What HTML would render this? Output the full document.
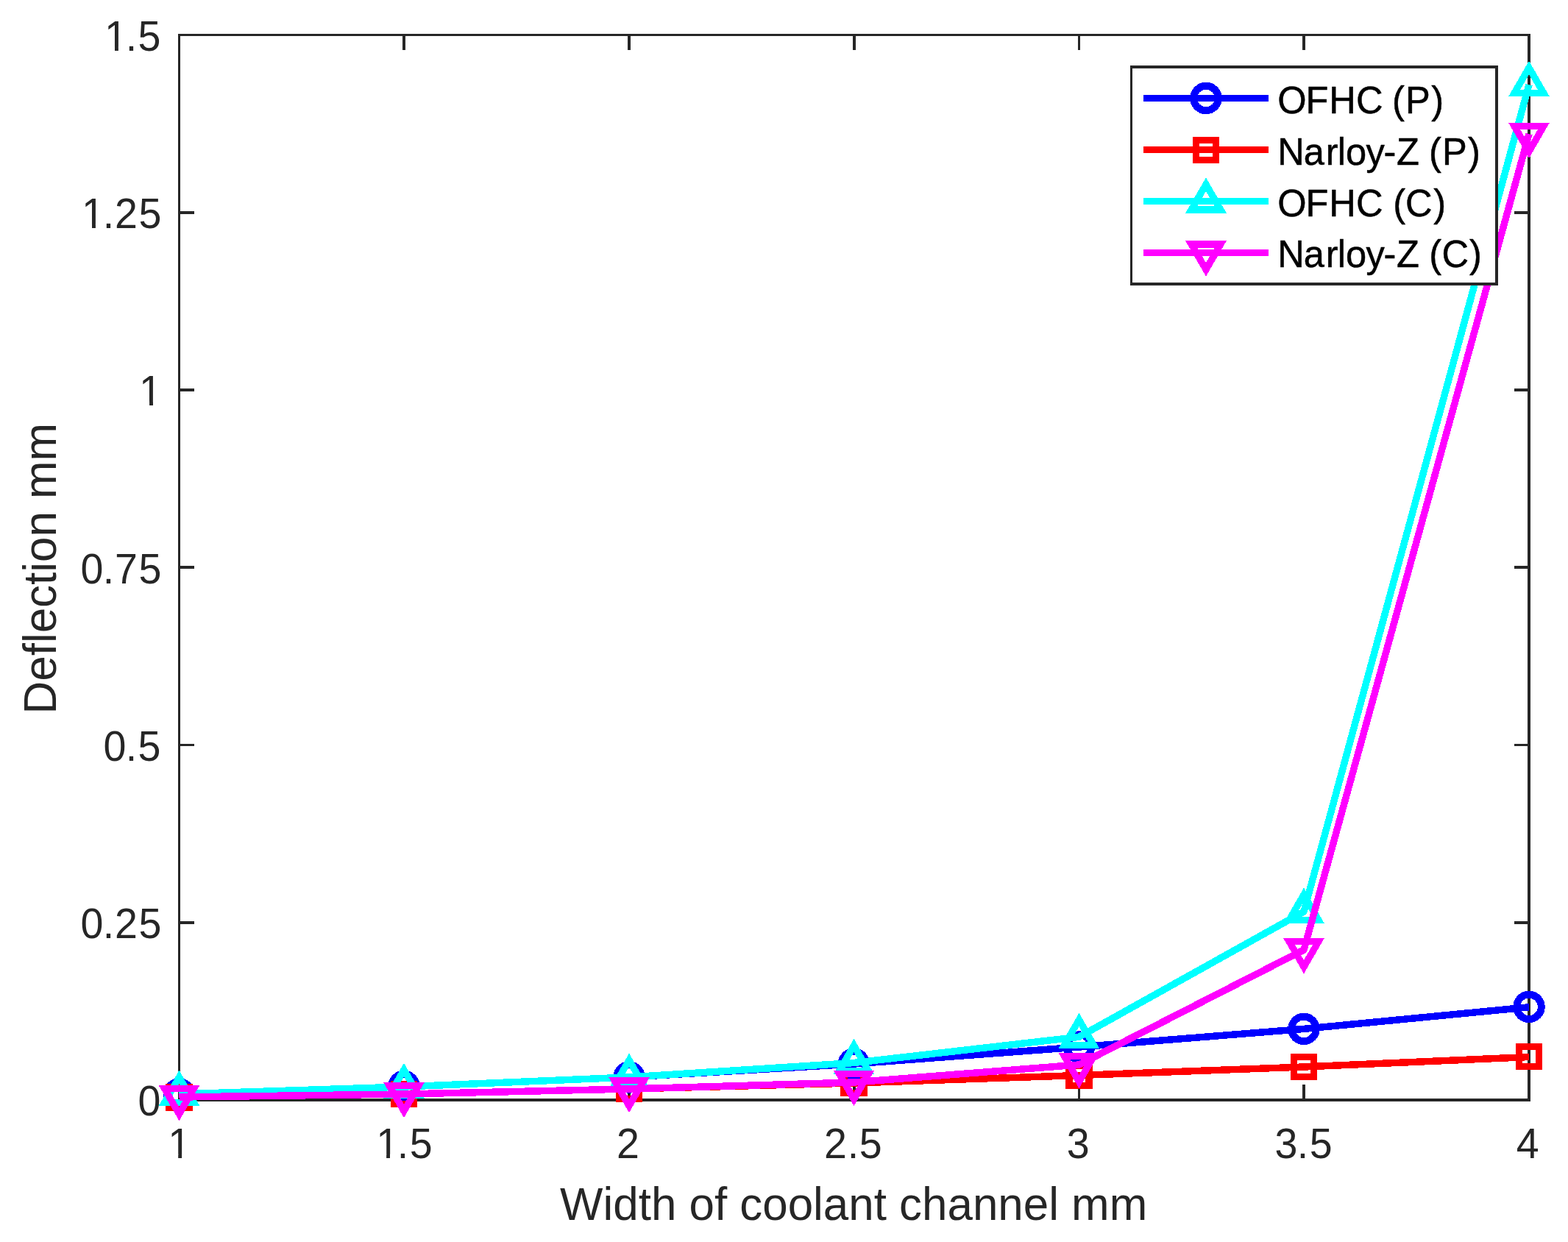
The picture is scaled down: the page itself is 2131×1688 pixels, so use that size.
<!DOCTYPE html>
<html lang="en"><head><meta charset="utf-8"><title>Deflection vs. width of coolant channel</title>
<style>html,body{margin:0;padding:0;background:#fff;}body{width:2131px;height:1688px;overflow:hidden;}svg{display:block;}text{font-family:"Liberation Sans",Arial,Helvetica,sans-serif;}</style>
</head><body>
<svg width="2131" height="1688" viewBox="0 0 2131 1688" role="img" aria-label="Deflection versus width of coolant channel">
<rect x="0" y="0" width="2131" height="1688" fill="#ffffff"/>
<g fill="#262626" shape-rendering="crispEdges">
<rect x="242" y="46" width="3" height="1451"/>
<rect x="2076" y="46" width="4" height="1451"/>
<rect x="242" y="46" width="1838" height="3"/>
<rect x="242" y="1493" width="1838" height="4"/>
</g>
<g fill="#262626" shape-rendering="crispEdges">
<rect x="547" y="49" width="4" height="19"/>
<rect x="547" y="1474" width="4" height="19"/>
<rect x="853" y="49" width="4" height="19"/>
<rect x="853" y="1474" width="4" height="19"/>
<rect x="1159" y="49" width="4" height="19"/>
<rect x="1159" y="1474" width="4" height="19"/>
<rect x="1465" y="49" width="3" height="19"/>
<rect x="1465" y="1474" width="3" height="19"/>
<rect x="1770" y="49" width="4" height="19"/>
<rect x="1770" y="1474" width="4" height="19"/>
<rect x="245" y="1252" width="19" height="4"/>
<rect x="2058" y="1252" width="18" height="4"/>
<rect x="245" y="1011" width="19" height="3"/>
<rect x="2058" y="1011" width="18" height="3"/>
<rect x="245" y="769" width="19" height="4"/>
<rect x="2058" y="769" width="18" height="4"/>
<rect x="245" y="528" width="19" height="4"/>
<rect x="2058" y="528" width="18" height="4"/>
<rect x="245" y="287" width="19" height="4"/>
<rect x="2058" y="287" width="18" height="4"/>
</g>
<defs>
<clipPath id="c0" clipPathUnits="userSpaceOnUse"><path d="M188.21 -80H428.21V40H188.21Z M230.95 -5.15H242.19V2H230.95Z M247.11 -5.15H257.92V2H247.11Z" clip-rule="evenodd"/></clipPath>
<clipPath id="c1" clipPathUnits="userSpaceOnUse"><path d="M471.14 -80H711.14V40H471.14Z M513.87 -5.15H525.12V2H513.87Z M530.03 -5.15H540.84V2H530.03Z" clip-rule="evenodd"/></clipPath>
<clipPath id="c2" clipPathUnits="userSpaceOnUse"><path d="M149.09 -80H389.09V40H149.09Z M191.82 -5.15H203.07V2H191.82Z M207.98 -5.15H218.79V2H207.98Z" clip-rule="evenodd"/></clipPath>
<clipPath id="c3" clipPathUnits="userSpaceOnUse"><path d="M71.02 -80H311.02V40H71.02Z M113.76 -5.15H125V2H113.76Z M129.92 -5.15H140.73V2H129.92Z" clip-rule="evenodd"/></clipPath>
<clipPath id="c4" clipPathUnits="userSpaceOnUse"><path d="M102 -80H342V40H102Z M144.73 -5.15H155.98V2H144.73Z M160.89 -5.15H171.7V2H160.89Z" clip-rule="evenodd"/></clipPath>
</defs>
<g fill="#262626" font-size="55.6px">
<text transform="translate(0 1573.9) scale(1 1.045)" x="228.21" y="0" clip-path="url(#c0)">1</text>
<text transform="translate(0 1573.9) scale(1 1.045)" x="511.14 539.76 556.65" y="0" clip-path="url(#c1)">1.5</text>
<text transform="translate(0 1573.9) scale(1 1.045)" x="838.1" y="0">2</text>
<text transform="translate(0 1573.9) scale(1 1.045)" x="1120.01 1151.8 1167.69" y="0">2.5</text>
<text transform="translate(0 1573.9) scale(1 1.045)" x="1449.75" y="0">3</text>
<text transform="translate(0 1573.9) scale(1 1.045)" x="1732.62 1762.8 1779.64" y="0">3.5</text>
<text transform="translate(0 1573.9) scale(1 1.045)" x="2060.74" y="0">4</text>
<text transform="translate(0 1515.9) scale(1 1.045)" x="187.44" y="0">0</text>
<text transform="translate(0 1274.9) scale(1 1.045)" x="109.49 139.8 155.99 188.52" y="0">0.25</text>
<text transform="translate(0 1033.9) scale(1 1.045)" x="140.58 170.73 187.54" y="0">0.5</text>
<text transform="translate(0 792.9) scale(1 1.045)" x="109.49 139.8 155.96 188.52" y="0">0.75</text>
<text transform="translate(0 550.9) scale(1 1.045)" x="189.09" y="0" clip-path="url(#c2)">1</text>
<text transform="translate(0 309.9) scale(1 1.045)" x="111.02 139.8 156.02 188.52" y="0" clip-path="url(#c3)">1.25</text>
<text transform="translate(0 68.9) scale(1 1.045)" x="142 170.73 187.54" y="0" clip-path="url(#c4)">1.5</text>
</g>
<g fill="#262626" font-size="61.9px">
<text transform="translate(1160.2 1658) scale(1 1.03)" x="-399.1" y="0">Width of coolant channel mm</text>
<text transform="translate(75.8 772.6) rotate(-90) scale(1 1.03)" x="-197.79" y="0">Deflection mm</text>
</g>
<g shape-rendering="crispEdges" fill="none">
<polyline points="243.5,1487 549,1477 855,1464 1160.5,1446 1466.5,1423 1772,1398.4 2078,1368.8" stroke="#0000ff" stroke-width="9.5" stroke-linejoin="round" stroke-linecap="butt"/>
<circle cx="243.5" cy="1487" r="16.75" fill="none" stroke="#0000ff" stroke-width="10"/>
<circle cx="549" cy="1476.5" r="16.75" fill="none" stroke="#0000ff" stroke-width="10"/>
<circle cx="855" cy="1464" r="16.75" fill="none" stroke="#0000ff" stroke-width="10"/>
<circle cx="1160.5" cy="1446" r="16.75" fill="none" stroke="#0000ff" stroke-width="10"/>
<circle cx="1466.5" cy="1423" r="16.75" fill="none" stroke="#0000ff" stroke-width="10"/>
<circle cx="1772" cy="1398.4" r="16.75" fill="none" stroke="#0000ff" stroke-width="10"/>
<circle cx="2078" cy="1368.4" r="16.75" fill="none" stroke="#0000ff" stroke-width="10"/>
<polyline points="243.5,1491 549,1487 855,1480 1160.5,1472 1466.5,1461.5 1772,1450 2078,1436.5" stroke="#ff0000" stroke-width="9.5" stroke-linejoin="round" stroke-linecap="butt"/>
<rect x="230" y="1478" width="27" height="27" fill="none" stroke="#ff0000" stroke-width="9.2"/>
<rect x="535.5" y="1473.5" width="27" height="27" fill="none" stroke="#ff0000" stroke-width="9.2"/>
<rect x="841.5" y="1466.5" width="27" height="27" fill="none" stroke="#ff0000" stroke-width="9.2"/>
<rect x="1147" y="1458.5" width="27" height="27" fill="none" stroke="#ff0000" stroke-width="9.2"/>
<rect x="1453" y="1448.5" width="27" height="27" fill="none" stroke="#ff0000" stroke-width="9.2"/>
<rect x="1758.5" y="1436.5" width="27" height="27" fill="none" stroke="#ff0000" stroke-width="9.2"/>
<rect x="2064.5" y="1422.5" width="27" height="27" fill="none" stroke="#ff0000" stroke-width="9.2"/>
<polyline points="243.5,1487 549,1477 855,1464 1160.5,1444.5 1466.5,1409.3 1772,1239 2078,115.2" stroke="#00ffff" stroke-width="9.5" stroke-linejoin="round" stroke-linecap="butt"/>
<polygon points="243.5,1464 263.33,1498.35 223.67,1498.35" fill="none" stroke="#00ffff" stroke-width="9.3" stroke-linejoin="miter"/>
<polygon points="549,1454 568.83,1488.35 529.17,1488.35" fill="none" stroke="#00ffff" stroke-width="9.3" stroke-linejoin="miter"/>
<polygon points="855,1440.9 874.83,1475.25 835.17,1475.25" fill="none" stroke="#00ffff" stroke-width="9.3" stroke-linejoin="miter"/>
<polygon points="1160.5,1421 1180.33,1455.35 1140.67,1455.35" fill="none" stroke="#00ffff" stroke-width="9.3" stroke-linejoin="miter"/>
<polygon points="1466.5,1386 1486.33,1420.35 1446.67,1420.35" fill="none" stroke="#00ffff" stroke-width="9.3" stroke-linejoin="miter"/>
<polygon points="1772,1215.9 1791.83,1250.25 1752.17,1250.25" fill="none" stroke="#00ffff" stroke-width="9.3" stroke-linejoin="miter"/>
<polygon points="2078,92 2097.83,126.35 2058.17,126.35" fill="none" stroke="#00ffff" stroke-width="9.3" stroke-linejoin="miter"/>
<polyline points="243.5,1491 549,1487 855,1480 1160.5,1471 1466.5,1447 1772,1291 2078,182.2" stroke="#ff00ff" stroke-width="9.5" stroke-linejoin="round" stroke-linecap="butt"/>
<polygon points="243.5,1514 263.33,1479.65 223.67,1479.65" fill="none" stroke="#ff00ff" stroke-width="9.3" stroke-linejoin="miter"/>
<polygon points="549,1510 568.83,1475.65 529.17,1475.65" fill="none" stroke="#ff00ff" stroke-width="9.3" stroke-linejoin="miter"/>
<polygon points="855,1503 874.83,1468.65 835.17,1468.65" fill="none" stroke="#ff00ff" stroke-width="9.3" stroke-linejoin="miter"/>
<polygon points="1160.5,1493.9 1180.33,1459.55 1140.67,1459.55" fill="none" stroke="#ff00ff" stroke-width="9.3" stroke-linejoin="miter"/>
<polygon points="1466.5,1470.1 1486.33,1435.75 1446.67,1435.75" fill="none" stroke="#ff00ff" stroke-width="9.3" stroke-linejoin="miter"/>
<polygon points="1772,1314.1 1791.83,1279.75 1752.17,1279.75" fill="none" stroke="#ff00ff" stroke-width="9.3" stroke-linejoin="miter"/>
<polygon points="2078,205.9 2097.83,171.55 2058.17,171.55" fill="none" stroke="#ff00ff" stroke-width="9.3" stroke-linejoin="miter"/>
</g>
<g shape-rendering="crispEdges">
<rect x="1536" y="89" width="500" height="299" fill="#262626"/>
<rect x="1539" y="93" width="493" height="291" fill="#ffffff"/>
<line x1="1554" y1="133.5" x2="1724" y2="133.5" stroke="#0000ff" stroke-width="9.5"/>
<circle cx="1639" cy="133.5" r="16.75" fill="none" stroke="#0000ff" stroke-width="10"/>
<line x1="1554" y1="203.5" x2="1724" y2="203.5" stroke="#ff0000" stroke-width="9.5"/>
<rect x="1625.5" y="190.5" width="27" height="27" fill="none" stroke="#ff0000" stroke-width="9.2"/>
<line x1="1554" y1="273.5" x2="1724" y2="273.5" stroke="#00ffff" stroke-width="9.5"/>
<polygon points="1639,250.6 1658.83,284.95 1619.17,284.95" fill="none" stroke="#00ffff" stroke-width="9.3" stroke-linejoin="miter"/>
<line x1="1554" y1="343.5" x2="1724" y2="343.5" stroke="#ff00ff" stroke-width="9.5"/>
<polygon points="1639,366.4 1658.83,332.05 1619.17,332.05" fill="none" stroke="#ff00ff" stroke-width="9.3" stroke-linejoin="miter"/>
</g>
<g fill="#000000" stroke="#000000" stroke-width="0.5" stroke-linejoin="round" font-size="50.6px">
<text transform="translate(0 153.83) scale(1 1.03)" x="1736.33 1774.48 1806.21 1842.93 1879.47 1891.91 1909.91 1945.2" y="0">OFHC (P)</text>
<text transform="translate(0 223.83) scale(1 1.03)" x="1736.22 1771.7 1801.76 1817.84 1828.98 1856.51 1880.57 1897.93 1928.84 1942.05 1960.08 1995.1" y="0">Narloy-Z (P)</text>
<text transform="translate(0 293.83) scale(1 1.03)" x="1736.33 1774.48 1806.21 1842.93 1879.47 1893.2 1910.11 1948.25" y="0">OFHC (C)</text>
<text transform="translate(0 362.75) scale(1 1.03)" x="1736.22 1771.7 1801.76 1817.84 1828.98 1856.51 1880.57 1897.93 1928.84 1942.2 1959.61 1997.1" y="0">Narloy-Z (C)</text>
</g>
</svg>
</body></html>
